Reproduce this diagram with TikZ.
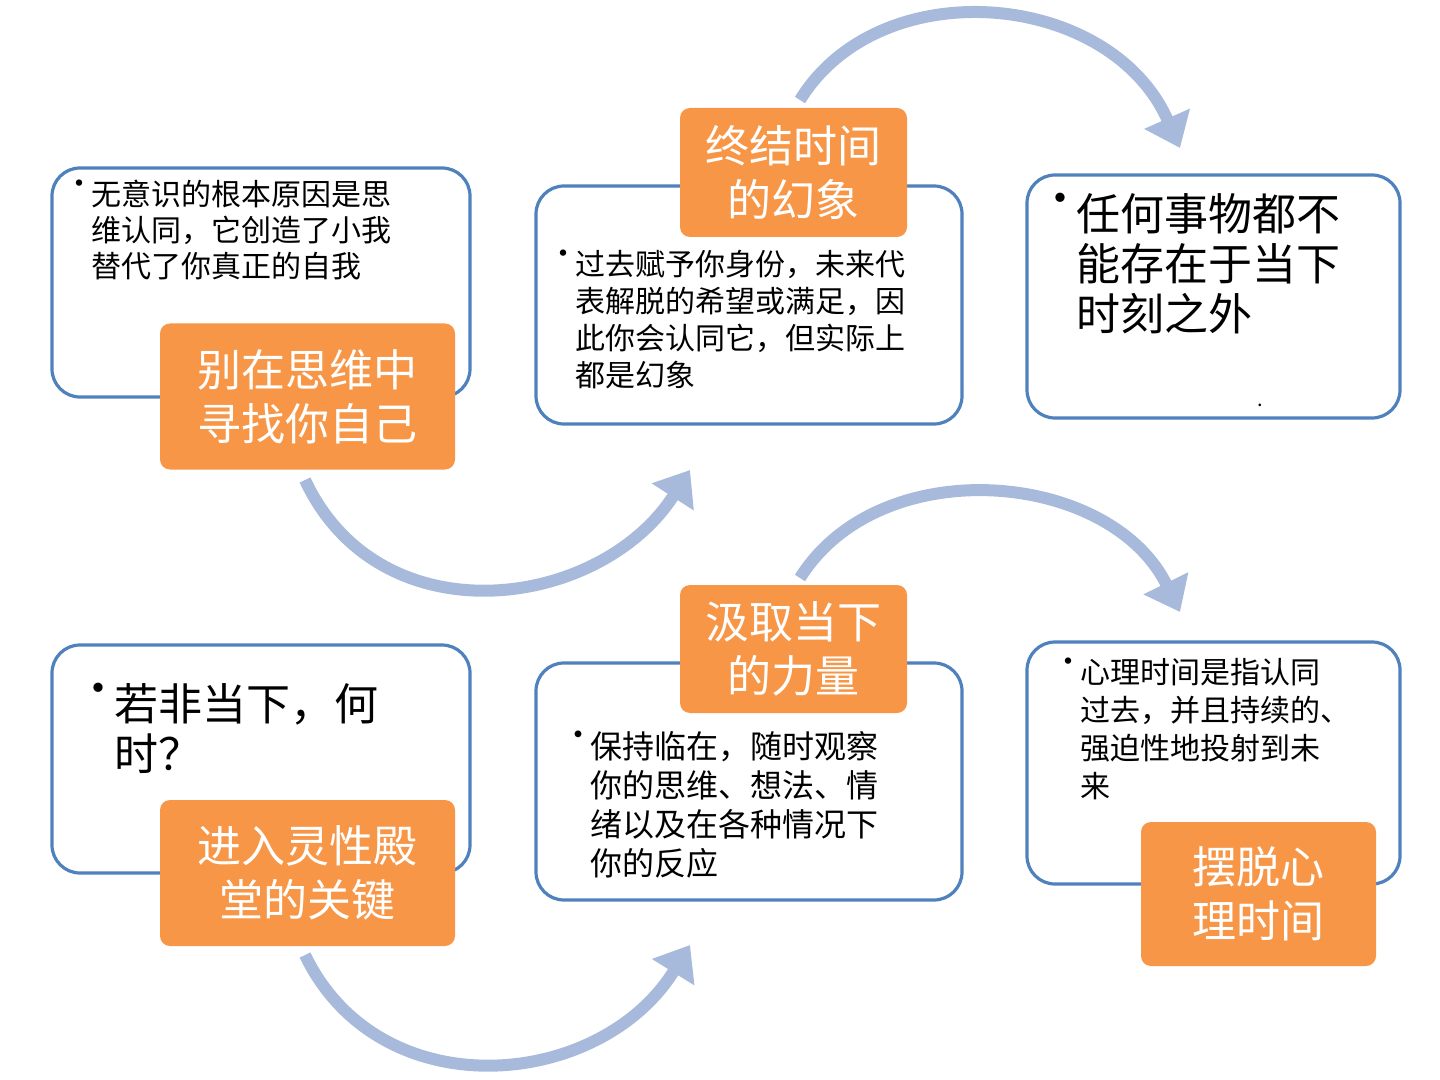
\documentclass[tikz,border=0pt]{standalone}
\usepackage{fontspec}
\setmainfont{Noto Sans CJK SC}
\usetikzlibrary{arrows.meta}
\definecolor{bbd}{HTML}{4F81BD}
\definecolor{org}{HTML}{F79646}
\definecolor{arc}{HTML}{A8BADB}
\tikzset{
 box/.style={draw=bbd,line width=1.6pt,rounded corners=14pt,fill=white},
 lab/.style={fill=org,rounded corners=5pt,text=white,align=center,font=\fontsize{22}{27}\selectfont},
 txt/.style={anchor=north west,align=left,inner sep=0pt},
 bul/.style={anchor=north west,inner sep=0pt},
 arr/.style={draw=arc,line width=6pt,-{Triangle[length=16pt,width=24pt]}}
}
\begin{document}
\begin{tikzpicture}[x=0.5pt,y=-0.5pt]
\useasboundingbox (0,0) rectangle (1440,1080);
% arcs
\coordinate (a1s) at (305,480); \coordinate (a1e) at (690,470);
\draw[arr] (a1s) .. controls (380,640) and (600,610) .. (a1e);
\coordinate (a2s) at (800,100); \coordinate (a2e) at (1180,148);
\draw[arr] (a2s) .. controls (880,-30) and (1110,-10) .. (a2e);
\coordinate (a3s) at (800,578); \coordinate (a3e) at (1180,612);
\draw[arr] (a3s) .. controls (880,450) and (1110,470) .. (a3e);
\coordinate (a4s) at (305,955); \coordinate (a4e) at (690,945);
\draw[arr] (a4s) .. controls (380,1110) and (600,1090) .. (a4e);
% boxes
\draw[box] (52,168) rectangle (470,397) node[pos=0,coordinate](A){};
\draw[box] (536,186) rectangle (962,424) node[pos=0,coordinate](B){};
\draw[box] (1027,175) rectangle (1400,418) node[pos=0,coordinate](C){};
\draw[box] (52,645) rectangle (470,873) node[pos=0,coordinate](D){};
\draw[box] (536,663) rectangle (962,900) node[pos=0,coordinate](E){};
\draw[box] (1027,642) rectangle (1400,884) node[pos=0,coordinate](F){};
% labels
\node[lab,minimum width=147.5pt,minimum height=73pt] (LA) at (307.5,396.5) {别在思维中\\寻找你自己};
\node[lab,minimum width=113.5pt,minimum height=64.5pt] (LB) at (793.5,172.5) {终结时间\\的幻象};
\node[lab,minimum width=147.5pt,minimum height=73pt] (LD) at (307.5,873) {进入灵性殿\\堂的关键};
\node[lab,minimum width=113.5pt,minimum height=64pt] (LE) at (793.5,649) {汲取当下\\的力量};
\node[lab,minimum width=117.5pt,minimum height=72pt] (LF) at (1258.5,894) {摆脱心\\理时间};
% texts
\node[bul,font=\fontsize{15}{18}\selectfont] (bA) at (64,180) {•};
\node[txt,font=\fontsize{15}{18}\selectfont] (tA) at (91,180) {无意识的根本原因是思\\维认同，它创造了小我\\替代了你真正的自我};
\node[bul,font=\fontsize{15}{18}\selectfont] (bB) at (548,250) {•};
\node[txt,font=\fontsize{15}{18.5}\selectfont] (tB) at (575,250) {过去赋予你身份，未来代\\表解脱的希望或满足，因\\此你会认同它，但实际上\\都是幻象};
\node[bul,font=\fontsize{22}{25}\selectfont] (bC) at (1038,193) {•};
\node[txt,font=\fontsize{22}{25}\selectfont] (tC) at (1076,193) {任何事物都不\\能存在于当下\\时刻之外};
\node[inner sep=0pt,font=\fontsize{10}{10}\selectfont] (dot) at (1260,405) {.};
\node[bul,font=\fontsize{22}{25}\selectfont] (bD) at (76,683) {•};
\node[txt,font=\fontsize{22}{25}\selectfont] (tD) at (114,683) {若非当下，何\\时？};
\node[bul,font=\fontsize{16}{19.5}\selectfont] (bE) at (562,731) {•};
\node[txt,font=\fontsize{16}{19.5}\selectfont] (tE) at (590,731) {保持临在，随时观察\\你的思维、想法、情\\绪以及在各种情况下\\你的反应};
\node[bul,font=\fontsize{15}{19}\selectfont] (bF) at (1053,658) {•};
\node[txt,font=\fontsize{15}{19}\selectfont] (tF) at (1080,658) {心理时间是指认同\\过去，并且持续的、\\强迫性地投射到未\\来};
\end{tikzpicture}
\end{document}
